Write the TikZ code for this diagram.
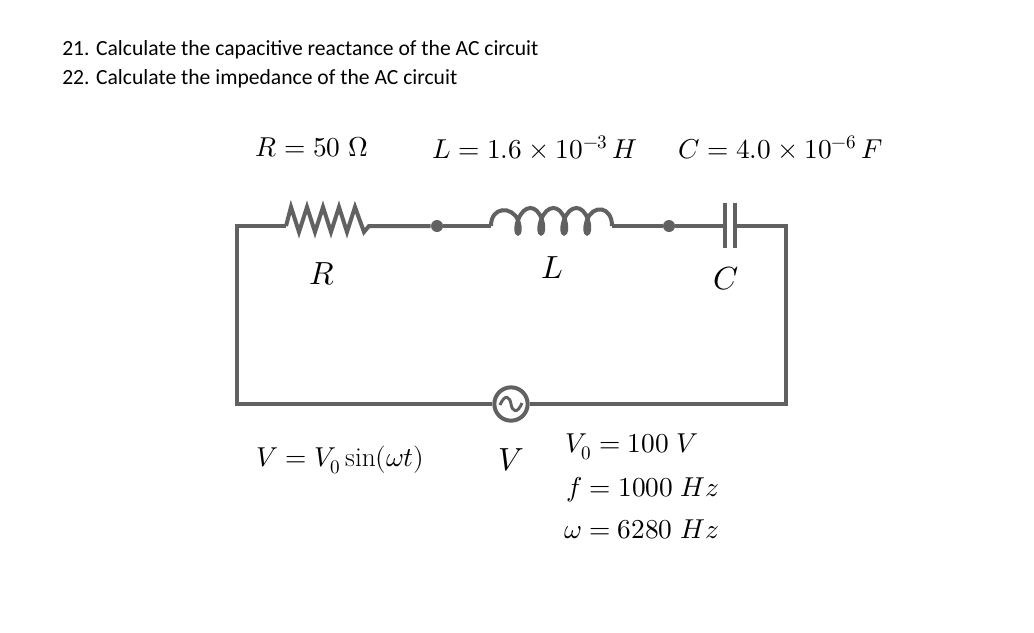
\documentclass[tikz,border=0pt]{standalone}
\usepackage{fontspec}
\setmainfont{Carlito}
\usepackage{unicode-math}
\setmathfont{Latin Modern Math}
\setmathrm{Latin Modern Roman}
\usetikzlibrary{decorations.pathmorphing}
\begin{document}
\begin{tikzpicture}[x=0.75pt,y=-0.75pt,
  wire/.style={draw=black!62,line width=3pt},
  q/.style={anchor=west,inner sep=0,font=\fontsize{16.2}{19}\selectfont},
  m/.style={inner sep=0,font=\fontsize{20.5}{24}\selectfont},
  big/.style={inner sep=0,font=\fontsize{24}{28}\selectfont},
  dotn/.style={circle,fill=black!62,inner sep=0,minimum size=9pt}]
\useasboundingbox (0,0) rectangle (1034,632);
\node[q] (q1) at (62,50) {21. Calculate the capacitive reactance of the AC circuit};
\node[q] (q2) at (62,79) {22. Calculate the impedance of the AC circuit};
\node[m,anchor=west] (tR) at (255,147) {$R=50\;\Omega$};
\node[m,anchor=west] (tL) at (432,147) {$L=1.6\times10^{-3}\,H$};
\node[m,anchor=west] (tC) at (678,147) {$C=4.0\times10^{-6}\,F$};
\node[dotn] (d1) at (437,226) {};
\node[dotn] (d2) at (669,226) {};
\coordinate (tl) at (237,226);
\coordinate (tr) at (786,226);
\coordinate (bl) at (237,404);
\coordinate (br) at (786,404);
\node[circle,draw=black!62,line width=3pt,minimum size=25pt,inner sep=0] (src) at (511,404) {};
\draw[black!62,line width=2.2pt] (500,405) .. controls (505,393) and (510,397) .. (511,404) .. controls (512,411) and (517,415) .. (522,403);
\draw[wire,line join=miter] (286,226) -- (tl) -- (bl) -- (src.west);
\draw[wire,line join=miter] (src.east) -- (br) -- (tr) -- (736,226);
\draw[wire,line join=miter] (286,226) -- (291,207) -- (299,232) -- (307,207) -- (315,232) -- (323,207) -- (331,232) -- (339,207) -- (347,232) -- (355,207) -- (364,232) -- (369,226) -- (d1);
\draw[wire] (d1) -- (491,226);
\draw[wire] (491,226) .. controls (491,206) and (512,206) .. (518,220)
 .. controls (524,238) and (512,238) .. (518,220)
 .. controls (524,204) and (537,204) .. (542,220)
 .. controls (547,238) and (535,238) .. (541,220)
 .. controls (547,204) and (560,204) .. (565,220)
 .. controls (570,238) and (558,238) .. (564,220)
 .. controls (570,204) and (583,204) .. (588,220)
 .. controls (593,238) and (581,238) .. (587,220)
 .. controls (593,204) and (612,206) .. (612,226);
\draw[wire] (612,226) -- (d2) -- (724,226);
\draw[wire] (725,203) -- (725,248);
\draw[wire] (735,203) -- (735,248);
\node[big] (lR) at (322,274) {$R$};
\node[big] (lL) at (552,268) {$L$};
\node[big] (lC) at (726,279) {$C$};
\node[m,anchor=west] (eq) at (256,460) {$V=V_0\sin(\omega t)$};
\node[big] (lV) at (511,460) {$V$};
\node[m,anchor=west] (v0) at (565,447) {$V_0=100\;V$};
\node[m,anchor=west] (f) at (566,490) {$f=1000\;Hz$};
\node[m,anchor=west] (w) at (564,529) {$\omega=6280\;Hz$};
\end{tikzpicture}
\end{document}
